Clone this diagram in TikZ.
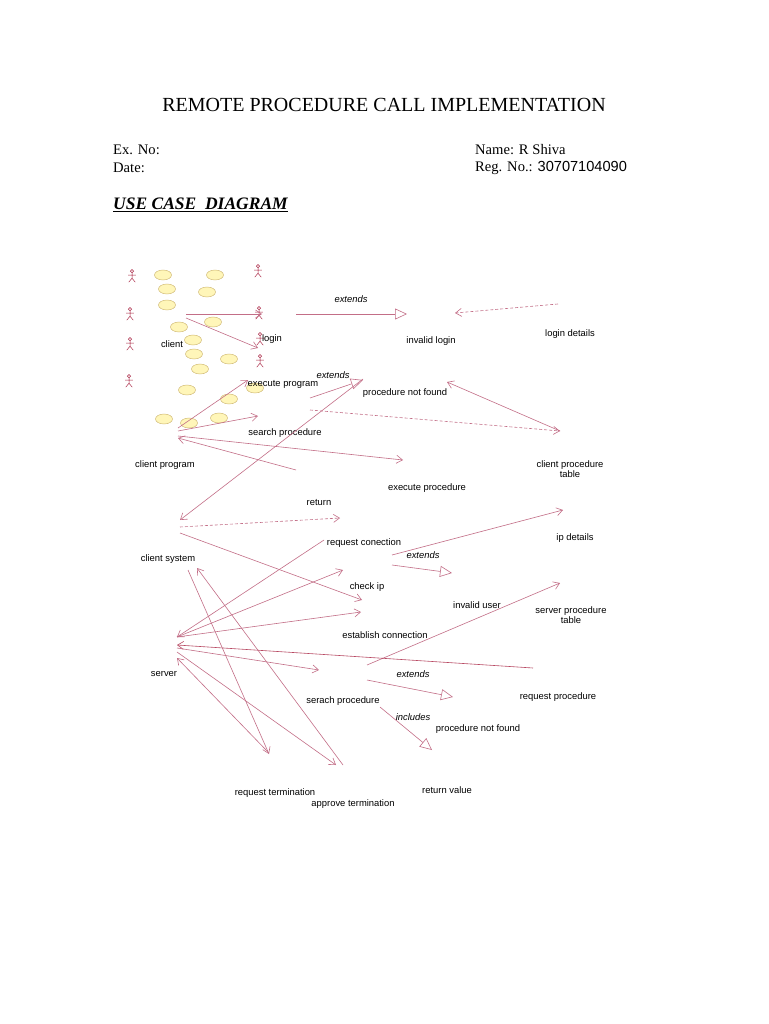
\documentclass[tikz,border=0pt]{standalone}
\usepackage{fontspec}
\setmainfont{Liberation Serif}
\newfontfamily\lsans{Liberation Sans}
\usetikzlibrary{arrows.meta,shapes.geometric}
\definecolor{ln}{RGB}{195,110,135}
\definecolor{ell}{RGB}{255,246,185}
\definecolor{elld}{RGB}{200,175,100}
\definecolor{act}{RGB}{170,40,70}
\tikzset{
  lbl/.style={font=\lsans\fontsize{9.4}{10.5}\selectfont,inner sep=0.5pt,align=center},
  ext/.style={font=\lsans\itshape\fontsize{9.4}{10.5}\selectfont,inner sep=0.5pt},
  hdr/.style={font=\fontsize{14.6}{16}\selectfont,anchor=west,inner sep=0},
  con/.style={draw=ln,line width=0.6pt,-{Straight Barb[length=6pt,width=8pt]}},
  dcon/.style={con,densely dashed},
  tri/.style={draw=ln,line width=0.6pt,-{Triangle[open,length=12pt,width=11pt]}},
  uc/.style={draw=elld,fill=ell,line width=0.4pt,ellipse,minimum width=17pt,minimum height=10pt,inner sep=0},
}
\begin{document}
\begin{tikzpicture}[x=1pt,y=-1pt]
\useasboundingbox[fill=white] (0,0) rectangle (768,1024);
\node[font=\fontsize{20}{22}\selectfont] (title) at (384,105) {REMOTE PROCEDURE CALL IMPLEMENTATION};
\node[hdr] (ex) at (113,150) {Ex. No:};
\node[hdr] (dt) at (113,168) {Date:};
\node[hdr] (nm) at (475,150) {Name: R Shiva};
\node[hdr] (rg) at (475,168) {Reg. No.: \lsans 30707104090};
\node[font=\bfseries\itshape\fontsize{17.5}{19}\selectfont,anchor=west,inner sep=0] (uc) at (113,205) {\underline{USE CASE\ \ DIAGRAM}};
% actors
\foreach \ax/\ay in {132/275,258/270,130/313,259/312,130/343,260/338,260/360,129/380} {
 \begin{scope}[shift={(\ax,\ay)},draw=act,line width=0.5pt,scale=1.3]
  \draw (0,-3) circle (1.3);
  \draw (0,-1.7)--(0,2.5) (-3,0)--(3,0) (0,2.5)--(-2.5,5.5) (0,2.5)--(2.5,5.5);
 \end{scope}}
% ellipses
\foreach \ex/\ey [count=\i] in {163/275,215/275,167/289,207/292,167/305,213/322,179/327,193/340,194/354,229/359,200/369,187/390,255/388,229/399,164/419,189/423,219/418} {\node[uc] (e\i) at (\ex,\ey) {};}
% labels
\node[lbl] (client) at (172,344) {client};
\node[lbl] (login) at (272,339) {login};
\node[lbl] (invlogin) at (431,341) {invalid login};
\node[lbl] (logindet) at (570,334) {login details};
\node[lbl] (execprog) at (283,384) {execute program};
\node[lbl] (pnf1) at (405,393) {procedure not found};
\node[lbl] (searchp) at (285,433) {search procedure};
\node[lbl] (clientprog) at (165,465) {client program};
\node[lbl] (cpt) at (570,469) {client procedure\\table};
\node[lbl] (execproc) at (427,488) {execute procedure};
\node[lbl] (ret) at (319,503) {return};
\node[lbl] (reqcon) at (364,543) {request conection};
\node[lbl] (ipdet) at (575,538) {ip details};
\node[lbl] (clientsys) at (168,559) {client system};
\node[lbl] (checkip) at (367,587) {check ip};
\node[lbl] (invuser) at (477,605) {invalid user};
\node[lbl] (spt) at (571,615) {server procedure\\table};
\node[lbl] (estab) at (385,635) {establish connection};
\node[lbl] (server) at (164,674) {server};
\node[lbl] (reqproc) at (558,697) {request procedure};
\node[lbl] (serach) at (343,701) {serach procedure};
\node[lbl] (pnf2) at (478,729) {procedure not found};
\node[lbl] (reqterm) at (275,793) {request termination};
\node[lbl] (apprterm) at (353,804) {approve termination};
\node[lbl] (retval) at (447,790) {return value};
\node[ext] (x1) at (351,299) {extends};
\node[ext] (x2) at (333,375) {extends};
\node[ext] (x3) at (423,555) {extends};
\node[ext] (x4) at (413,674) {extends};
\node[ext] (x5) at (413,717) {includes};
% connector end coordinates
\foreach \n/\cx/\cy in {a1/186/314,a2/262/314,a3/186/318,a4/258/348,
 b1/296/314,b2/407/314,b3/558/304,b4/455/313,
 c1/178/428,c2/248/380,c3/178/431,c4/258/416,
 d1/310/398,d2/363/380,d3/310/410,d4/560/431,d5/447/382,
 f1/178/436,f2/403/460,f3/296/470,f4/178/438,
 g1/363/379,g2/180/520,g3/180/527,g4/340/518,g5/180/533,g6/362/600,
 s0/177/637,h1/324/540,h2/343/570,h3/361/612,
 i1/392/555,i2/563/510,i3/392/565,i4/452/573,
 j1/367/665,j2/560/583,j3/533/668,s1/177/645,s2/177/648,j4/319/670,
 k1/367/680,k2/453/697,k3/380/707,k4/432/750,
 m1/188/570,m2/269/754,m3/343/765,m4/197/568,s3/177/652,m5/336/765,m6/268/752,s4/177/658}
 {\coordinate (\n) at (\cx,\cy);}
\draw[con] (a1)--(a2);
\draw[con] (a3)--(a4);
\draw[tri] (b1)--(b2);
\draw[dcon] (b3)--(b4);
\draw[con] (c1)--(c2);
\draw[con] (c3)--(c4);
\draw[tri] (d1)--(d2);
\draw[dcon] (d3)--(d4);
\draw[con] (d4)--(d5);
\draw[con] (f1)--(f2);
\draw[con] (f3)--(f4);
\draw[con] (g1)--(g2);
\draw[dcon] (g3)--(g4);
\draw[con] (g5)--(g6);
\draw[con] (h1)--(s0);
\draw[con] (s0)--(h2);
\draw[con] (s0)--(h3);
\draw[con] (i1)--(i2);
\draw[tri] (i3)--(i4);
\draw[con] (j1)--(j2);
\draw[con,draw=act!85] (j3)--(s1);
\draw[con] (s2)--(j4);
\draw[tri] (k1)--(k2);
\draw[tri] (k3)--(k4);
\draw[con] (m1)--(m2);
\draw[con] (m3)--(m4);
\draw[con] (s3)--(m5);
\draw[con] (m6)--(s4);
\end{tikzpicture}
\end{document}
